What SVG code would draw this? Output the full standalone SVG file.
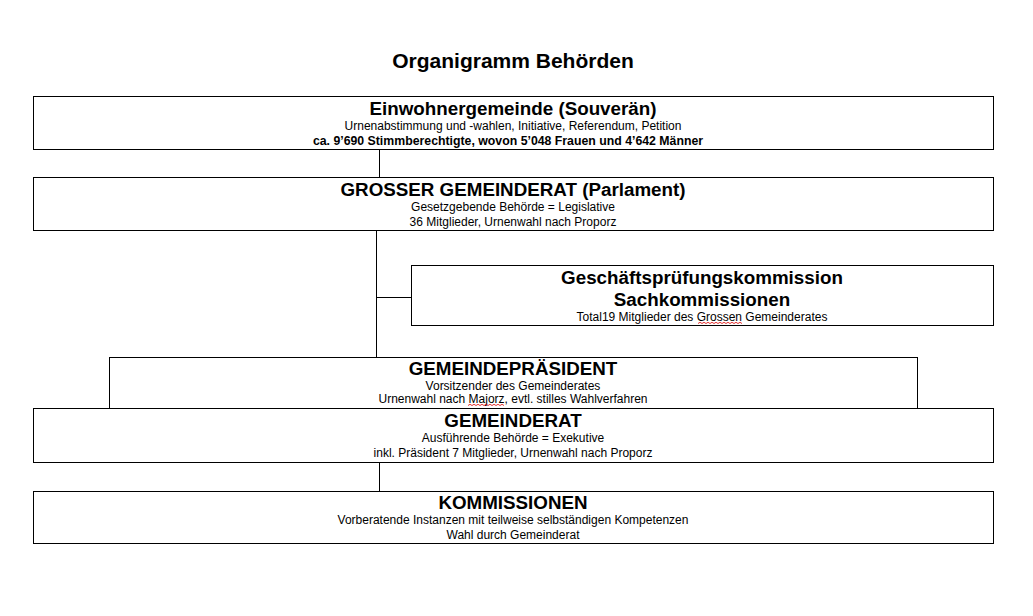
<svg xmlns="http://www.w3.org/2000/svg" width="1033" height="616" viewBox="0 0 1033 616">
<style>
text{font-family:"Liberation Sans",Arial,sans-serif;fill:#000;text-anchor:middle}
.t{font-size:18.8px;font-weight:bold}
.s{font-size:12px}
.b{font-size:12.3px;font-weight:bold}
.box{fill:#fff;stroke:#000;stroke-width:1}
.c{stroke:#000;stroke-width:1;fill:none}
.sq{stroke:#d00;stroke-width:0.8;fill:none}
</style>
<rect width="1033" height="616" fill="#fff"/>
<text x="513" y="68" style="font-size:21px;font-weight:bold">Organigramm Behörden</text>
<g id="connectors">
<line class="c" x1="379.5" y1="149" x2="379.5" y2="177"/>
<line class="c" x1="376.5" y1="230" x2="376.5" y2="360"/>
<line class="c" x1="376" y1="297.5" x2="413" y2="297.5"/>
<line class="c" x1="379.5" y1="462" x2="379.5" y2="491"/>
</g>
<g id="einwohnergemeinde">
<rect class="box" x="33.5" y="96.5" width="960" height="53"/>
<text class="t" x="513" y="115">Einwohnergemeinde (Souverän)</text>
<text class="s" x="513" y="130">Urnenabstimmung und -wahlen, Initiative, Referendum, Petition</text>
<text class="b" x="508" y="145">ca. 9’690 Stimmberechtigte, wovon 5’048 Frauen und 4’642 Männer</text>
</g>
<g id="grosser-gemeinderat">
<rect class="box" x="33.5" y="177.5" width="960" height="53"/>
<text class="t" x="513" y="196">GROSSER GEMEINDERAT (Parlament)</text>
<text class="s" x="513" y="211">Gesetzgebende Behörde = Legislative</text>
<text class="s" x="513" y="226">36 Mitglieder, Urnenwahl nach Proporz</text>
</g>
<g id="kommissionen-gr">
<rect class="box" x="411.5" y="265.5" width="582" height="60"/>
<text class="t" x="702" y="284">Geschäftsprüfungskommission</text>
<text class="t" x="702" y="306">Sachkommissionen</text>
<text class="s" x="702" y="321">Total19 Mitglieder des Grossen Gemeinderates</text>
<path class="sq" d="M698 323.5 l2 -1.2 l2 1.2 l2 -1.2 l2 1.2 l2 -1.2 l2 1.2 l2 -1.2 l2 1.2 l2 -1.2 l2 1.2 l2 -1.2 l2 1.2 l2 -1.2 l2 1.2 l2 -1.2 l2 1.2 l2 -1.2 l2 1.2 l2 -1.2 l2 1.2 l2 -1.2 l2 1.2"/>
</g>
<g id="gemeindepraesident">
<rect class="box" x="109.5" y="357.5" width="808" height="51"/>
<text class="t" x="513" y="375">GEMEINDEPRÄSIDENT</text>
<text class="s" x="513" y="390">Vorsitzender des Gemeinderates</text>
<text class="s" x="513" y="403">Urnenwahl nach Majorz, evtl. stilles Wahlverfahren</text>
<path class="sq" d="M468 405.5 l2 -1.2 l2 1.2 l2 -1.2 l2 1.2 l2 -1.2 l2 1.2 l2 -1.2 l2 1.2 l2 -1.2 l2 1.2 l2 -1.2 l2 1.2 l2 -1.2 l2 1.2 l2 -1.2 l2 1.2 l2 -1.2 l2 1.2"/>
</g>
<g id="gemeinderat">
<rect class="box" x="33.5" y="408.5" width="960" height="54"/>
<text class="t" x="513" y="427">GEMEINDERAT</text>
<text class="s" x="513" y="442">Ausführende Behörde = Exekutive</text>
<text class="s" x="513" y="457">inkl. Präsident 7 Mitglieder, Urnenwahl nach Proporz</text>
</g>
<g id="kommissionen">
<rect class="box" x="33.5" y="491.5" width="960" height="52"/>
<text class="t" x="513" y="509">KOMMISSIONEN</text>
<text class="s" x="513" y="524">Vorberatende Instanzen mit teilweise selbständigen Kompetenzen</text>
<text class="s" x="513" y="539">Wahl durch Gemeinderat</text>
</g>
</svg>
